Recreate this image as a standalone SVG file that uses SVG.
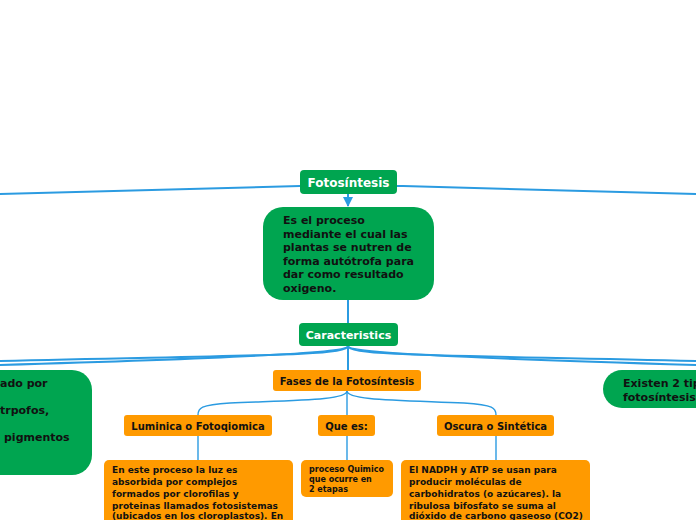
<svg xmlns="http://www.w3.org/2000/svg" width="696" height="520" viewBox="0 0 696 520">
<defs>
<style>
.g{fill:#00A550}
.o{fill:#FF9A00}
.c{fill:none;stroke:#2B9BE1;stroke-width:2}
.c2{fill:none;stroke:#2B9BE1;stroke-width:1.4}
text{font-family:"DejaVu Sans",Verdana,sans-serif;font-weight:bold}
.w{fill:#fff;font-size:11.5px;text-anchor:middle}
.b{fill:#111;font-size:11px}
.m{fill:#111;font-size:10px;text-anchor:middle}
.s{fill:#111;font-size:9px}
.xs{fill:#111;font-size:8px}
</style>
<marker id="ar" viewBox="0 0 10 10" refX="9" refY="5" markerWidth="5" markerHeight="5" orient="auto"><path d="M0,0 L10,5 L0,10 z" fill="#2B9BE1"/></marker>
</defs>
<rect width="696" height="520" fill="#fff"/>
<g id="connectors">
<path class="c" d="M300,186 C200,188 100,191 0,194"/>
<path class="c" d="M397,186 C497,188 597,191 696,194"/>
<path class="c" d="M348,194 L348,206" marker-end="url(#ar)"/>
<path class="c" d="M348,300 L348,323"/>
<path class="c" d="M348,346 C348,356 250,355 0,361"/>
<path class="c" d="M348,346 C348,352 250,358 0,365"/>
<path class="c" d="M348,346 C348,356 450,355 696,361"/>
<path class="c" d="M348,346 C348,352 450,358 696,365"/>
<path class="c" d="M348,346 L348,370"/>
<path class="c2" d="M347,391 C347,400 300,400 230,403 C200,405 198,408 198,415"/>
<path class="c2" d="M347,391 C347,400 394,400 464,403 C494,405 496,408 496,415"/>
<path class="c2" d="M347,391 L347,415"/>
<path class="c2" d="M198,436 L198,460"/>
<path class="c2" d="M347,436 L347,460"/>
<path class="c2" d="M496,436 L496,460"/>
</g>
<g id="n-fotosintesis">
<rect class="g" x="300" y="170" width="97" height="24" rx="4"/>
<text class="w" x="348.5" y="186.5" style="font-size:12px">Fotosíntesis</text>
</g>
<g id="n-definicion">
<rect class="g" x="263" y="207" width="171" height="93" rx="20"/>
<text class="b" x="283" y="224">Es el proceso</text>
<text class="b" x="283" y="238">mediante el cual las</text>
<text class="b" x="283" y="251">plantas se nutren  de</text>
<text class="b" x="283" y="265">forma autótrofa para</text>
<text class="b" x="283" y="278">dar como resultado</text>
<text class="b" x="283" y="292">oxigeno.</text>
</g>
<g id="n-caracteristics">
<rect class="g" x="299" y="323" width="99" height="23" rx="4"/>
<text class="w" x="348.5" y="339" style="font-size:11px">Caracteristics</text>
</g>
<g id="n-izquierda">
<rect class="g" x="-40" y="370" width="132" height="105" rx="20"/>
<text class="b" x="0" y="387">ado por</text>
<text class="b" x="0" y="414">trpofos,</text>
<text class="b" x="4" y="441">pigmentos</text>
</g>
<g id="n-derecha">
<rect class="g" x="603" y="370" width="130" height="38" rx="19"/>
<text class="b" x="623" y="387">Existen 2 tip</text>
<text class="b" x="623" y="401">fotosíntesis</text>
</g>
<g id="n-fases">
<rect class="o" x="273" y="370" width="148" height="21" rx="3"/>
<text class="m" x="347" y="385">Fases de la Fotosíntesis</text>
</g>
<g id="n-luminica">
<rect class="o" x="124" y="415" width="148" height="21" rx="3"/>
<text class="m" x="198" y="430">Luminica o Fotoqiomica</text>
</g>
<g id="n-quees">
<rect class="o" x="318" y="415" width="57" height="21" rx="3"/>
<text class="m" x="346.5" y="430">Que es:</text>
</g>
<g id="n-oscura">
<rect class="o" x="437" y="415" width="117" height="21" rx="3"/>
<text class="m" x="495.5" y="430">Oscura o Sintética</text>
</g>
<g id="n-luminica-det">
<rect class="o" x="104" y="460" width="189" height="70" rx="5"/>
<text class="s" x="112" y="473">En este proceso la luz es</text>
<text class="s" x="112" y="485">absorbida por complejos</text>
<text class="s" x="112" y="497">formados por clorofilas y</text>
<text class="s" x="112" y="509">proteinas llamados fotosistemas</text>
<text class="s" x="112" y="518.5">(ubicados en los cloroplastos). En</text>
</g>
<g id="n-quees-det">
<rect class="o" x="301" y="460" width="92" height="37" rx="5"/>
<text class="xs" x="309" y="472">proceso Quimico</text>
<text class="xs" x="309" y="482">que ocurre en</text>
<text class="xs" x="309" y="492">2 etapas</text>
</g>
<g id="n-oscura-det">
<rect class="o" x="401" y="460" width="189" height="70" rx="5"/>
<text class="s" x="409" y="473">El NADPH y ATP se usan para</text>
<text class="s" x="409" y="485">producir moléculas de</text>
<text class="s" x="409" y="497">carbohidratos (o azúcares). la</text>
<text class="s" x="409" y="509">ribulosa bifosfato se suma al</text>
<text class="s" x="409" y="518.5">dióxido de carbono gaseoso (CO2)</text>
</g>
</svg>
